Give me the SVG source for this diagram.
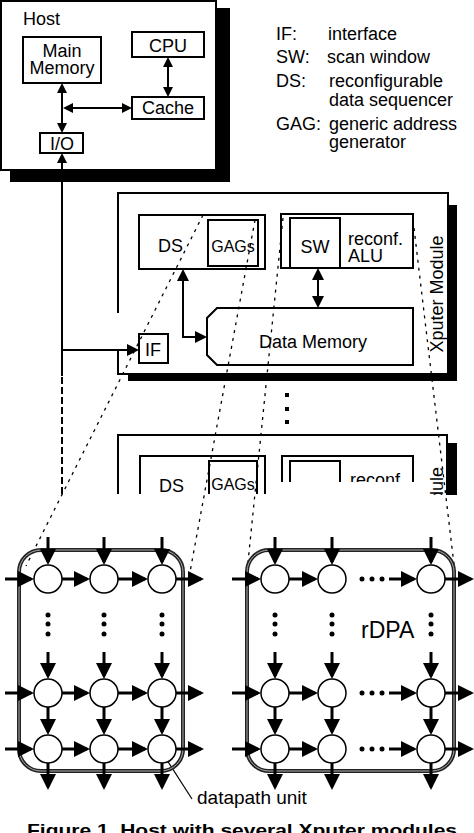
<svg xmlns="http://www.w3.org/2000/svg" width="474" height="833" viewBox="0 0 474 833">
<style>
.t{font-family:"Liberation Sans",Arial,Helvetica,sans-serif;font-size:18px;fill:#000}
.tm{text-anchor:middle}
.box{fill:#fff;stroke:#000;stroke-width:2}
.ln{fill:none;stroke:#000;stroke-width:2}
.sh{fill:#000}
.proj{fill:none;stroke:#000;stroke-width:1.3;stroke-dasharray:3 5}
.ga{fill:none;stroke:#000;stroke-width:3}
.dp{fill:#fff;stroke:#000;stroke-width:1.5}
.rim{fill:none;stroke:#222;stroke-width:4}
.rim2{fill:none;stroke:#aaa;stroke-width:1}
</style>
<defs>
<marker id="as" viewBox="0 0 10 10" refX="8" refY="5" markerWidth="10" markerHeight="10" markerUnits="userSpaceOnUse" orient="auto-start-reverse"><path d="M0,0 L10,5 L0,10 z"/></marker>
<marker id="am" viewBox="0 0 12 12" refX="10" refY="6" markerWidth="12" markerHeight="12" markerUnits="userSpaceOnUse" orient="auto-start-reverse"><path d="M0,0 L12,6 L0,12 z"/></marker>
<marker id="ab" viewBox="0 0 16 16" refX="13" refY="8" markerWidth="16" markerHeight="16" markerUnits="userSpaceOnUse" orient="auto-start-reverse"><path d="M0,0 L16,8 L0,16 z"/></marker>
<clipPath id="cut">
<rect x="0" y="380" width="276" height="114"/>
<rect x="276" y="380" width="148" height="102"/>
<rect x="424" y="380" width="50" height="115"/>
</clipPath>
</defs>

<g id="host">
<rect class="sh" x="216" y="8" width="14" height="174"/>
<rect class="sh" x="10" y="170" width="220" height="12"/>
<rect class="box" x="1" y="1" width="215" height="169"/>
<text class="t" x="23" y="25">Host</text>
</g>
<g id="mainmem">
<rect class="box" x="23" y="37" width="78" height="46"/>
<text class="t tm" x="62" y="57">Main</text>
<text class="t tm" x="62" y="74">Memory</text>
</g>
<g id="cpu">
<rect class="box" x="132" y="32" width="72" height="25"/>
<text class="t tm" x="168" y="52">CPU</text>
</g>
<g id="cache">
<rect class="box" x="132" y="97" width="72" height="22"/>
<text class="t tm" x="168" y="114">Cache</text>
</g>
<g id="io">
<rect class="box" x="40" y="133" width="43" height="20"/>
<text class="t tm" x="62" y="150">I/O</text>
</g>

<g id="legend">
<text class="t" x="276" y="40">IF:</text>
<text class="t" x="328" y="40">interface</text>
<text class="t" x="276" y="63">SW:</text>
<text class="t" x="327" y="63">scan window</text>
<text class="t" x="276" y="87">DS:</text>
<text class="t" x="329" y="87">reconfigurable</text>
<text class="t" x="329" y="106">data sequencer</text>
<text class="t" x="276" y="130">GAG:</text>
<text class="t" x="329" y="130">generic address</text>
<text class="t" x="329" y="148">generator</text>
</g>

<g id="module1">
<rect class="sh" x="448" y="205" width="9" height="176"/>
<rect class="sh" x="128" y="374" width="329" height="7"/>
<path class="ln" d="M118,313 V193 H448 V374 H118 V350"/>
<text class="t tm" transform="translate(443,294) rotate(-90)">Xputer Module</text>
</g>
<g id="ds1">
<rect class="box" x="139" y="215" width="126" height="54"/>
<text class="t" x="158" y="252">DS</text>
</g>
<g id="gags1">
<rect class="box" x="208" y="220" width="50" height="46"/>
<text class="t tm" x="233" y="252" style="font-size:16px">GAGs</text>
</g>
<g id="alu1">
<rect class="box" x="281" y="214" width="132" height="54"/>
<text class="t" x="348" y="245">reconf.</text>
<text class="t" x="348" y="262">ALU</text>
</g>
<g id="sw1">
<rect class="box" x="290" y="218" width="50" height="50"/>
<text class="t tm" x="315" y="253">SW</text>
</g>
<g id="datamem1">
<path class="box" d="M217,308 H413 V365 H217 L207,355 V318 Z"/>
<text class="t tm" x="313" y="348">Data Memory</text>
</g>
<g id="if1">
<rect class="box" x="139" y="334" width="29" height="29"/>
<text class="t tm" x="153" y="356">IF</text>
</g>

<g id="vdots">
<rect x="285" y="393" width="4" height="4"/>
<rect x="285" y="407" width="4" height="4"/>
<rect x="285" y="420" width="4" height="4"/>
</g>

<g id="module2" clip-path="url(#cut)">
<rect class="sh" x="448" y="443" width="9" height="60"/>
<path class="ln" d="M118,500 V435 H447 V500"/>
<rect class="box" x="140" y="456" width="125" height="50"/>
<text class="t" x="159" y="492">DS</text>
<rect class="box" x="209" y="461" width="48" height="45"/>
<text class="t tm" x="233" y="490" style="font-size:16px">GAGs</text>
<rect class="box" x="282" y="456" width="131" height="50"/>
<rect class="box" x="290" y="461" width="50" height="45"/>
<text class="t" x="350" y="486">reconf.</text>
<text class="t" transform="translate(443,467) rotate(-90)" text-anchor="end">Xputer Module</text>
</g>

<g id="connectors">
<path class="ln" d="M62,85 V131" marker-start="url(#as)" marker-end="url(#as)"/>
<path class="ln" d="M65,108 H130" marker-start="url(#as)" marker-end="url(#as)"/>
<path class="ln" d="M168,59 V95" marker-start="url(#as)" marker-end="url(#as)"/>
<path class="ln" d="M62,376 V155" marker-end="url(#as)"/>
<path class="ln" d="M62,377 V497" style="stroke-dasharray:7 3"/>
<path class="ln" d="M62,350 H137" marker-end="url(#am)"/>
<path class="ln" d="M183,271 V337 H205" marker-start="url(#am)" marker-end="url(#am)"/>
<path class="ln" d="M318,270 V306" marker-start="url(#am)" marker-end="url(#am)"/>
<path class="proj" d="M203,215 L26,566"/>
<path class="proj" d="M255,220 L190,572"/>
<path class="proj" d="M283,218 L247,572"/>
<path class="proj" d="M414,228 L455,573"/>
<path class="ln" d="M165,757 L192,799" style="stroke-width:1.2"/>
</g>

<g id="grid-left">
<rect class="rim" x="19" y="550" width="164" height="221" rx="22"/>
<rect class="rim2" x="19" y="550" width="164" height="221" rx="22"/>
<path class="ga" d="M5,579 H31" marker-end="url(#ab)"/>
<path class="ga" d="M62,579 H87" marker-end="url(#ab)"/>
<path class="ga" d="M118,579 H145" marker-end="url(#ab)"/>
<path class="ga" d="M176,579 H201" marker-end="url(#ab)"/>
<path class="ga" d="M5,693 H31" marker-end="url(#ab)"/>
<path class="ga" d="M62,693 H87" marker-end="url(#ab)"/>
<path class="ga" d="M118,693 H145" marker-end="url(#ab)"/>
<path class="ga" d="M176,693 H201" marker-end="url(#ab)"/>
<path class="ga" d="M5,749 H31" marker-end="url(#ab)"/>
<path class="ga" d="M62,749 H87" marker-end="url(#ab)"/>
<path class="ga" d="M118,749 H145" marker-end="url(#ab)"/>
<path class="ga" d="M176,749 H201" marker-end="url(#ab)"/>
<path class="ga" d="M48,537 V562" marker-end="url(#ab)"/>
<path class="ga" d="M104,537 V562" marker-end="url(#ab)"/>
<path class="ga" d="M162,537 V562" marker-end="url(#ab)"/>
<path class="ga" d="M48,652 V676" marker-end="url(#ab)"/>
<path class="ga" d="M104,652 V676" marker-end="url(#ab)"/>
<path class="ga" d="M162,652 V676" marker-end="url(#ab)"/>
<path class="ga" d="M48,707 V732" marker-end="url(#ab)"/>
<path class="ga" d="M104,707 V732" marker-end="url(#ab)"/>
<path class="ga" d="M162,707 V732" marker-end="url(#ab)"/>
<path class="ga" d="M48,763 V787" marker-end="url(#ab)"/>
<path class="ga" d="M104,763 V787" marker-end="url(#ab)"/>
<path class="ga" d="M162,763 V787" marker-end="url(#ab)"/>
<g>
<circle cx="48" cy="615" r="2.5"/><circle cx="48" cy="624" r="2.5"/><circle cx="48" cy="634" r="2.5"/>
<circle cx="104" cy="615" r="2.5"/><circle cx="104" cy="624" r="2.5"/><circle cx="104" cy="634" r="2.5"/>
<circle cx="162" cy="615" r="2.5"/><circle cx="162" cy="624" r="2.5"/><circle cx="162" cy="634" r="2.5"/>
</g>
<g id="dpu-left">
<circle class="dp" cx="48" cy="579" r="14"/><circle class="dp" cx="104" cy="579" r="14"/><circle class="dp" cx="162" cy="579" r="14"/>
<circle class="dp" cx="48" cy="693" r="14"/><circle class="dp" cx="104" cy="693" r="14"/><circle class="dp" cx="162" cy="693" r="14"/>
<circle class="dp" cx="48" cy="749" r="14"/><circle class="dp" cx="104" cy="749" r="14"/><circle class="dp" cx="162" cy="749" r="14"/>
</g>
</g>

<g id="grid-right">
<rect class="rim" x="247" y="550" width="207" height="221" rx="22"/>
<rect class="rim2" x="247" y="550" width="207" height="221" rx="22"/>
<path class="ga" d="M232,579 H258" marker-end="url(#ab)"/>
<path class="ga" d="M289,579 H315" marker-end="url(#ab)"/>
<path class="ga" d="M389,579 H414" marker-end="url(#ab)"/>
<path class="ga" d="M445,579 H471" marker-end="url(#ab)"/>
<path class="ga" d="M232,693 H258" marker-end="url(#ab)"/>
<path class="ga" d="M289,693 H315" marker-end="url(#ab)"/>
<path class="ga" d="M389,693 H414" marker-end="url(#ab)"/>
<path class="ga" d="M445,693 H471" marker-end="url(#ab)"/>
<path class="ga" d="M232,749 H258" marker-end="url(#ab)"/>
<path class="ga" d="M289,749 H315" marker-end="url(#ab)"/>
<path class="ga" d="M389,749 H414" marker-end="url(#ab)"/>
<path class="ga" d="M445,749 H471" marker-end="url(#ab)"/>
<path class="ga" d="M275,537 V562" marker-end="url(#ab)"/>
<path class="ga" d="M332,537 V562" marker-end="url(#ab)"/>
<path class="ga" d="M431,537 V562" marker-end="url(#ab)"/>
<path class="ga" d="M275,652 V676" marker-end="url(#ab)"/>
<path class="ga" d="M332,652 V676" marker-end="url(#ab)"/>
<path class="ga" d="M431,652 V676" marker-end="url(#ab)"/>
<path class="ga" d="M275,707 V732" marker-end="url(#ab)"/>
<path class="ga" d="M332,707 V732" marker-end="url(#ab)"/>
<path class="ga" d="M431,707 V732" marker-end="url(#ab)"/>
<path class="ga" d="M275,763 V787" marker-end="url(#ab)"/>
<path class="ga" d="M332,763 V787" marker-end="url(#ab)"/>
<path class="ga" d="M431,763 V787" marker-end="url(#ab)"/>
<g>
<circle cx="275" cy="615" r="2.5"/><circle cx="275" cy="624" r="2.5"/><circle cx="275" cy="634" r="2.5"/>
<circle cx="332" cy="615" r="2.5"/><circle cx="332" cy="624" r="2.5"/><circle cx="332" cy="634" r="2.5"/>
<circle cx="431" cy="615" r="2.5"/><circle cx="431" cy="624" r="2.5"/><circle cx="431" cy="634" r="2.5"/>
<circle cx="362" cy="579" r="2.5"/><circle cx="372" cy="579" r="2.5"/><circle cx="382" cy="579" r="2.5"/>
<circle cx="362" cy="693" r="2.5"/><circle cx="372" cy="693" r="2.5"/><circle cx="382" cy="693" r="2.5"/>
<circle cx="362" cy="749" r="2.5"/><circle cx="372" cy="749" r="2.5"/><circle cx="382" cy="749" r="2.5"/>
</g>
<g id="dpu-right">
<circle class="dp" cx="275" cy="579" r="14"/><circle class="dp" cx="332" cy="579" r="14"/><circle class="dp" cx="431" cy="579" r="14"/>
<circle class="dp" cx="275" cy="693" r="14"/><circle class="dp" cx="332" cy="693" r="14"/><circle class="dp" cx="431" cy="693" r="14"/>
<circle class="dp" cx="275" cy="749" r="14"/><circle class="dp" cx="332" cy="749" r="14"/><circle class="dp" cx="431" cy="749" r="14"/>
</g>
<text class="t" x="361" y="638" style="font-size:23px">rDPA</text>
</g>

<g id="labels">
<text class="t" x="197" y="804" style="font-size:19px">datapath unit</text>
<text class="t" x="27" y="836" style="font-size:17px;font-weight:bold" textLength="430" lengthAdjust="spacingAndGlyphs">Figure 1. Host with several Xputer modules</text>
</g>
</svg>
